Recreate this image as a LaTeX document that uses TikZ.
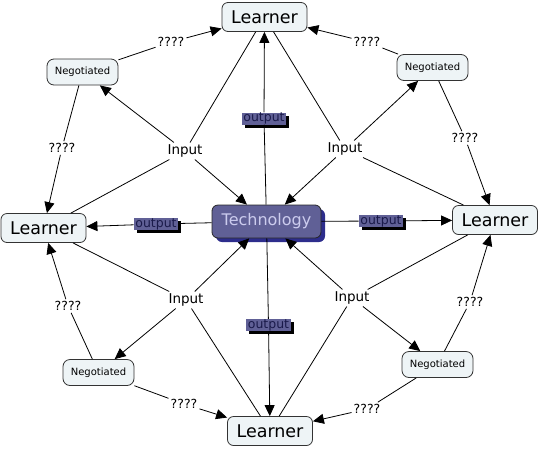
\documentclass[tikz,border=0pt]{standalone}
\usepackage{fontspec}
\setmainfont{DejaVu Sans}
\usetikzlibrary{arrows.meta,shadows}
\definecolor{boxfill}{HTML}{EEF4F6}
\definecolor{boxline}{HTML}{333333}
\definecolor{techfill}{HTML}{606096}
\definecolor{techshadow}{HTML}{2D2D8C}
\definecolor{techtext}{HTML}{CCCCEE}
\definecolor{outtext}{HTML}{1A1A4A}
\begin{document}
\begin{tikzpicture}[x={(1pt,0pt)}, y={(0pt,-1pt)},
 concept/.style={draw=boxline, fill=boxfill, rounded corners=6pt, line width=0.8pt, inner sep=0pt},
 learner/.style={concept, minimum width=85pt, minimum height=29pt, font=\fontsize{17.5}{20}\selectfont},
 negot/.style={concept, minimum width=71pt, minimum height=26pt, font=\fontsize{10}{12}\selectfont, rounded corners=7pt},
 tech/.style={draw=black!85, fill=techfill, text=techtext, rounded corners=6pt, line width=0.8pt, minimum width=109pt, minimum height=33pt, font=\fontsize{16}{19}\selectfont, drop shadow={shadow xshift=4pt, shadow yshift=-4pt, fill=techshadow, opacity=1}},
 linkph/.style={inner sep=2pt, font=\fontsize{13.5}{15}\selectfont},
 qq/.style={inner sep=2pt, font=\fontsize{12.5}{14}\selectfont},
 outp/.style={fill=techfill, text=outtext, inner xsep=1.5pt, inner ysep=0.5pt, text height=8.5pt, text depth=2.5pt, font=\fontsize{12.5}{14}\selectfont, drop shadow={shadow xshift=3pt, shadow yshift=-3pt, fill=black, opacity=1}},
 ln/.style={line width=0.8pt},
 arr/.style={ln, -{Triangle[length=11pt,width=10pt]}}
]
\useasboundingbox (0,0) rectangle (540,448);
\fill[white] (0,0) rectangle (540,448);

% concepts
\node[learner] (LT) at (264.5,17) {Learner};
\node[learner] (LL) at (43.5,228) {Learner};
\node[learner] (LR) at (495,220) {Learner};
\node[learner] (LB) at (270,431) {Learner};
\node[tech] (tech) at (266.5,221.5) {Technology};
\node[negot] (nTL) at (82.5,72) {Negotiated};
\node[negot] (nTR) at (432.5,67.5) {Negotiated};
\node[negot] (nBL) at (98.5,372.5) {Negotiated};
\node[negot] (nBR) at (437.5,364.5) {Negotiated};

% linking phrases
\node[linkph] (iTL) at (185,151) {Input};
\node[linkph] (iTR) at (345,149) {Input};
\node[linkph] (iBL) at (186,300) {Input};
\node[linkph] (iBR) at (352,298) {Input};

\node[qq] (q1) at (171,42) {????};
\node[qq] (q2) at (62,148) {????};
\node[qq] (q3) at (367,42) {????};
\node[qq] (q4) at (465,138) {????};
\node[qq] (q5) at (68,306) {????};
\node[qq] (q6) at (184,404) {????};
\node[qq] (q7) at (470,302) {????};
\node[qq] (q8) at (367,409) {????};

\node[outp] (oT) at (264,118.5) {output};
\node[outp] (oL) at (156,224) {output};
\node[outp] (oR) at (381,221) {output};
\node[outp] (oB) at (268.5,325) {output};

% technology outputs
\draw[ln] (tech) -- (oT); \draw[arr] (oT) -- (LT);
\draw[ln] (tech) -- (oL); \draw[arr] (oL) -- (LL);
\draw[ln] (tech) -- (oR); \draw[arr] (oR) -- (LR);
\draw[ln] (tech) -- (oB); \draw[arr] (oB) -- (LB);

% inputs
\draw[ln] (LT) -- (iTL); \draw[ln] (LL) -- (iTL);
\draw[arr] (iTL) -- (nTL); \draw[arr] (iTL) -- (tech);
\draw[ln] (LT) -- (iTR); \draw[ln] (LR) -- (iTR);
\draw[arr] (iTR) -- (nTR); \draw[arr] (iTR) -- (tech);
\draw[ln] (LL) -- (iBL); \draw[ln] (LB) -- (iBL);
\draw[arr] (iBL) -- (nBL); \draw[arr] (iBL) -- (tech);
\draw[ln] (LR) -- (iBR); \draw[ln] (LB) -- (iBR);
\draw[arr] (iBR) -- (nBR); \draw[arr] (iBR) -- (tech);

% negotiated
\draw[ln] (nTL) -- (q1); \draw[arr] (q1) -- (LT);
\draw[ln] (nTL) -- (q2); \draw[arr] (q2) -- (LL);
\draw[ln] (nTR) -- (q3); \draw[arr] (q3) -- (LT);
\draw[ln] (nTR) -- (q4); \draw[arr] (q4) -- (LR);
\draw[ln] (nBL) -- (q5); \draw[arr] (q5) -- (LL);
\draw[ln] (nBL) -- (q6); \draw[arr] (q6) -- (LB);
\draw[ln] (nBR) -- (q7); \draw[arr] (q7) -- (LR);
\draw[ln] (nBR) -- (q8); \draw[arr] (q8) -- (LB);
\end{tikzpicture}
\end{document}
